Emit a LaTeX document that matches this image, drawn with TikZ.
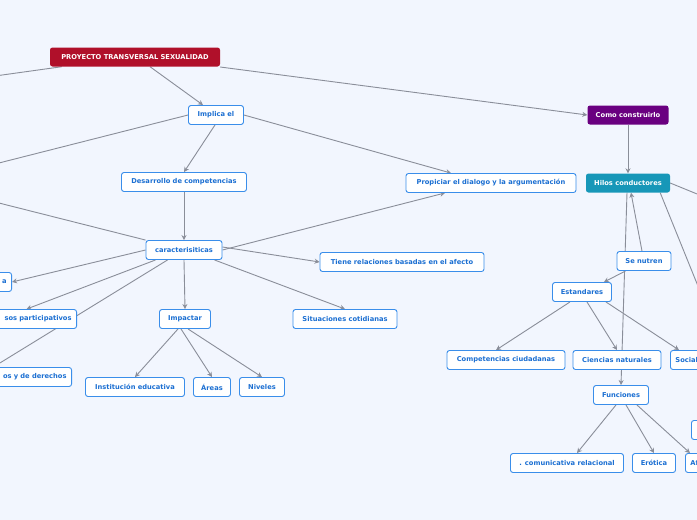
\documentclass[tikz,border=0pt]{standalone}
\usepackage{fontspec}
\setmainfont{DejaVu Sans}
\usetikzlibrary{arrows.meta,backgrounds}
\definecolor{bg}{HTML}{F2F6FE}
\definecolor{bblue}{HTML}{3A8EEA}
\definecolor{tblue}{HTML}{1B6FD2}
\definecolor{ered}{HTML}{B0102A}
\definecolor{epurple}{HTML}{6A0080}
\definecolor{eteal}{HTML}{1797B8}
\definecolor{lgray}{HTML}{8A8E99}
\begin{document}
\begin{tikzpicture}[x=1pt,y=-1pt,
  box/.style={draw=bblue,line width=0.9pt,fill=white,rounded corners=2.5pt,text=tblue,
    font=\fontsize{6.7}{7}\selectfont\bfseries,minimum height=19pt,inner xsep=5pt,inner ysep=0pt},
  fbox/.style={rounded corners=2.5pt,text=white,font=\fontsize{6.7}{7}\selectfont\bfseries,
    minimum height=19pt,inner xsep=5pt,inner ysep=0pt},
  ln/.style={draw=lgray,line width=0.9pt},
  ar/.style={ln,-{Stealth[length=5pt,width=5pt]}}]
\useasboundingbox (0,0) rectangle (697,520);
% nodes
\node[fbox,fill=ered,minimum width=170pt] (p) at (135,57) {PROYECTO TRANSVERSAL SEXUALIDAD};
\node[box,minimum width=55pt] (i) at (216,115) {Implica el};
\node[fbox,fill=epurple,minimum width=81pt] (c) at (628,115) {Como construirlo};
\node[box,minimum width=125pt] (d) at (184,182) {Desarrollo de competencias};
\node[box,minimum width=170pt] (pr) at (491,183) {Propiciar el dialogo y la argumentación};
\node[fbox,fill=eteal,minimum width=84pt] (h) at (628,183) {Hilos conductores};
\node[box,minimum width=76pt] (k) at (184,250) {caracterisiticas};
\node[box,minimum width=60pt,anchor=east,text width=50pt,align=right] (a) at (12,282) {a};
\node[box,minimum width=164pt] (t) at (402,262) {Tiene relaciones basadas en el afecto};
\node[box,minimum width=100pt,anchor=east,text width=90pt,align=right] (s) at (77,319) {sos participativos};
\node[box,minimum width=51pt] (im) at (185,319) {Impactar};
\node[box,minimum width=104pt] (si) at (345,319) {Situaciones cotidianas};
\node[box,minimum width=100pt,anchor=east,text width=90pt,align=right] (o) at (72,377) {os y de derechos};
\node[box,minimum width=99pt] (ie) at (135,387) {Institución educativa};
\node[box,minimum width=37pt] (ar) at (212,387) {Áreas};
\node[box,minimum width=45pt] (n) at (262,387) {Niveles};
\node[box,minimum width=54pt] (sn) at (644,261) {Se nutren};
\node[box,minimum width=59pt] (e) at (582,292) {Estandares};
\node[box,minimum width=118pt] (cc) at (506,360) {Competencias ciudadanas};
\node[box,minimum width=88pt] (cn) at (617,360) {Ciencias naturales};
\node[box,minimum width=60pt,anchor=west,text width=50pt,align=left] (so) at (670,360) {Sociales};
\node[box,minimum width=55pt] (f) at (621,395) {Funciones};
\node[box,minimum width=40pt,anchor=west] (x) at (691,430) {};
\node[box,minimum width=113pt] (cr) at (567,463) {. comunicativa relacional};
\node[box,minimum width=43pt] (er) at (654,463) {Erótica};
\node[box,minimum width=40pt,anchor=west,text width=30pt,align=left] (af) at (685,463) {Afectiva};
\coordinate (l1) at (-5,76);
\coordinate (l2) at (-5,164);
\coordinate (l3) at (-5,202);
\coordinate (l4) at (-5,366);
\coordinate (r1) at (702,196);
\coordinate (r2) at (702,296);
\begin{scope}[on background layer]
\fill[bg] (0,0) rectangle (697,520);
\draw[ln] ([xshift=12pt]p.south west) -- (l1);
\draw[ar] ([xshift=15pt]p.south) -- ([xshift=-13pt]i.north);
\draw[ar] ([yshift=-10pt]p.east) -- (c.west);
\draw[ln] (i.west) -- (l2);
\draw[ar] ([xshift=-1pt]i.south) -- (d.north);
\draw[ar] (i.east) -- ([xshift=-40pt]pr.north);
\draw[ar] (d.south) -- (k.north);
\draw[ln] (l3) -- (k.north west);
\draw[ar] (k.east) -- ([xshift=-46pt]pr.south);
\draw[ar] (k.west) -- (a.east);
\draw[ar] ([xshift=10pt]k.south west) -- (s.north);
\draw[ln] ([xshift=22pt]k.south west) -- (l4);
\draw[ar] (k.south) -- (im.north);
\draw[ar] ([yshift=3pt]k.east) -- (t.west);
\draw[ar] ([xshift=-8pt]k.south east) -- (si.north);
\draw[ar] ([xshift=-7pt]im.south) -- (ie.north);
\draw[ar] ([xshift=-4pt]im.south) -- (ar.north);
\draw[ar] ([xshift=3pt]im.south) -- (n.north);
\draw[ar] (c.south) -- (h.north);
\draw[ln] (h.east) -- (r1);
\draw[ln] ([xshift=-10pt]h.south east) -- (r2);
\draw[ar] ([xshift=-2pt]sn.north) -- ([xshift=3pt]h.south);
\draw[ar] ([xshift=-1pt]h.south) -- (f.north);
\draw[ar] ([xshift=9pt]sn.south west) -- ([xshift=-8pt]e.north east);
\draw[ar] ([xshift=-12pt]e.south) -- ([xshift=-10pt]cc.north);
\draw[ar] ([xshift=5pt]e.south) -- (cn.north);
\draw[ar] ([xshift=-6pt]e.south east) -- ([xshift=9pt]so.north west);
\draw[ar] ([xshift=-5pt]f.south) -- ([xshift=10pt]cr.north);
\draw[ar] ([xshift=5pt]f.south) -- (er.north);
\draw[ar] ([xshift=-12pt]f.south east) -- ([xshift=5pt]af.north west);
\end{scope}
\end{tikzpicture}
\end{document}
